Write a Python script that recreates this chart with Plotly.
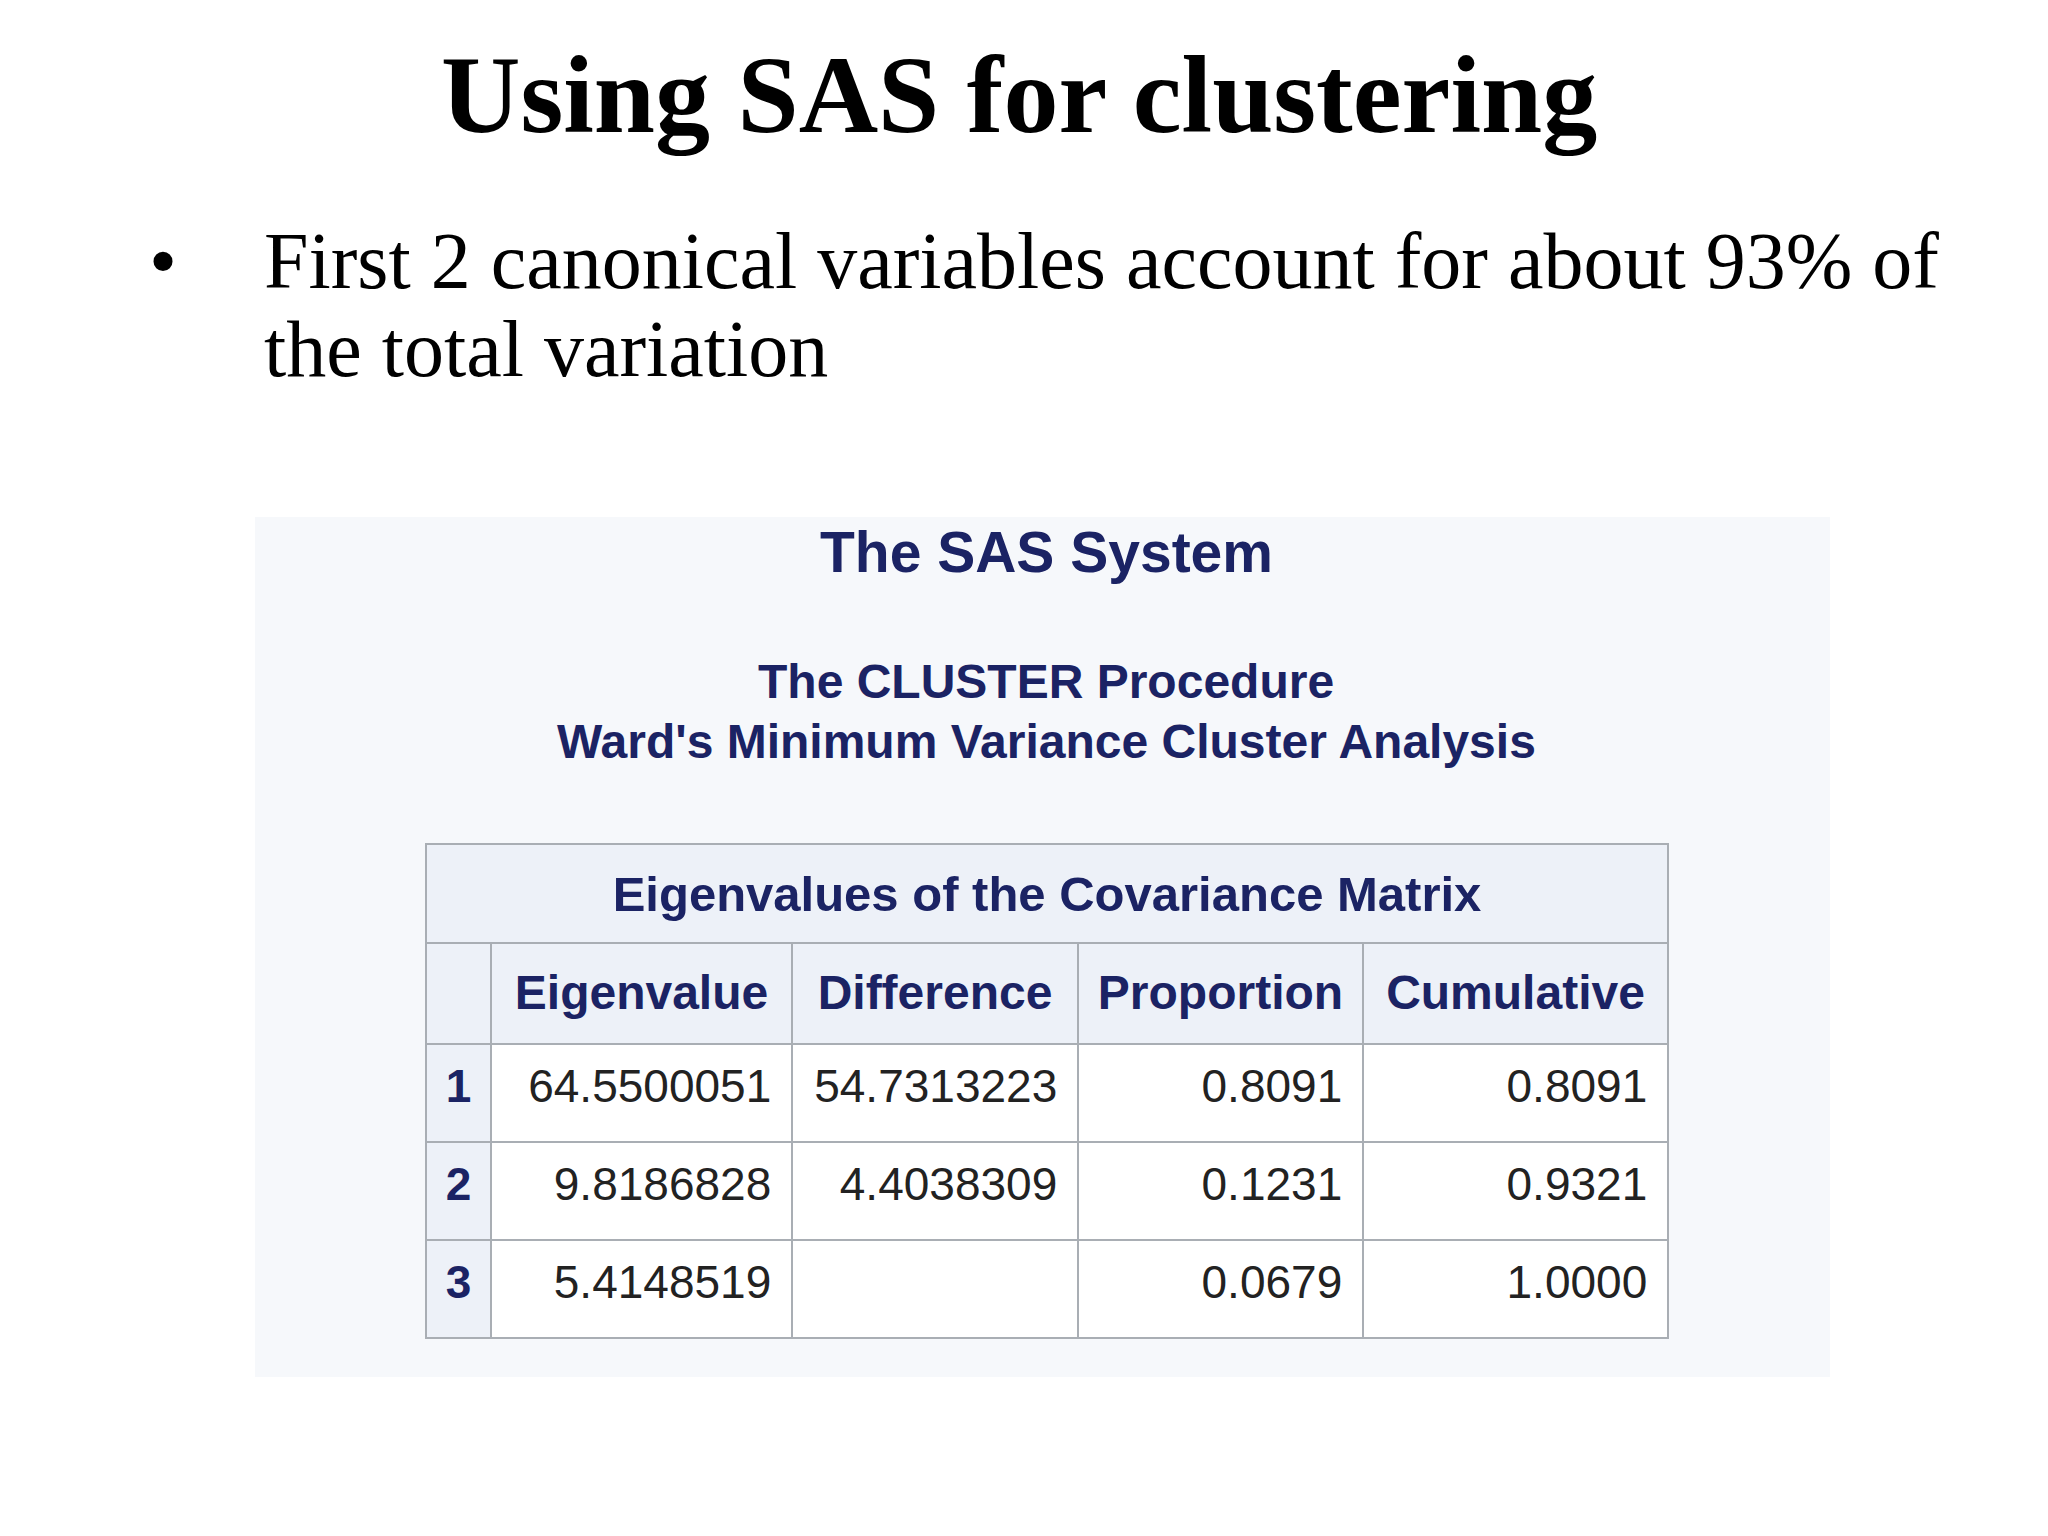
import plotly.graph_objects as go

W, H = 2048, 1536
OFF = 9  # page body margin

slide_title = "Using SAS for clustering"
bullet_lines = ["First 2 canonical variables account for about 93% of",
                "the total variation"]
sas_title = "The SAS System"
proc_titles = ["The CLUSTER Procedure",
               "Ward's Minimum Variance Cluster Analysis"]
table_title = "Eigenvalues of the Covariance Matrix"
col_headers = ["", "Eigenvalue", "Difference", "Proportion", "Cumulative"]
row_ids = ["1", "2", "3"]
eigenvalue = [64.5500051, 9.8186828, 5.4148519]
difference = [54.7313223, 4.4038309, None]
proportion = [0.8091, 0.1231, 0.0679]
cumulative = [0.8091, 0.9321, 1.0000]

NAVY = "#1b2364"
GRID = "#a9aeb4"
HEAD_FILL = "#edf1f8"
CLEAR = "rgba(0,0,0,0)"
SANS = "Liberation Sans, Arial, sans-serif"
SERIF = "Liberation Serif, Times New Roman, serif"

# table geometry (px)
TX0, TX1 = 427, 1669
ROW_TOP = [845, 944, 1045]      # title row, header row, first data row
TITLE_H, HEAD_H, ROW_H = 99, 101, 98
COLW = [65, 301, 286, 285, 305]
DY = 15  # push cell text down to centre it in the rows


def px(x):
    return (x - OFF) / W


def py(y):
    return 1 - (y - OFF) / H


def fmt(vals, nd):
    return [("" if v is None else f"{v:.{nd}f}") + "\u00a0" for v in vals]


fig = go.Figure()

# title row: grid + text layer
fig.add_trace(go.Table(
    domain=dict(x=[px(TX0), px(TX1)], y=[py(ROW_TOP[1] + 4), py(ROW_TOP[0])]),
    header=dict(values=[""], height=TITLE_H, fill_color=HEAD_FILL,
                line=dict(color=GRID, width=2)),
    cells=dict(values=[[]]),
))
fig.add_trace(go.Table(
    domain=dict(x=[px(TX0), px(TX1)], y=[py(ROW_TOP[1] + DY), py(ROW_TOP[0] + DY)]),
    header=dict(values=[f"<b>{table_title}</b>"], height=TITLE_H,
                fill_color=CLEAR, line=dict(color=CLEAR, width=0),
                font=dict(family=SANS, size=49, color=NAVY), align="center"),
    cells=dict(values=[[]]),
))

# header + data rows: grid layer
n_rows = len(row_ids)
bottom = ROW_TOP[2] + n_rows * ROW_H
fig.add_trace(go.Table(
    domain=dict(x=[px(TX0), px(TX1)], y=[py(bottom + 4), py(ROW_TOP[1])]),
    columnwidth=COLW,
    header=dict(values=[""] * len(col_headers), height=HEAD_H,
                fill_color=HEAD_FILL, line=dict(color=GRID, width=2)),
    cells=dict(values=[[""] * n_rows for _ in col_headers], height=ROW_H,
               fill_color=[HEAD_FILL] + ["white"] * 4,
               line=dict(color=GRID, width=2)),
))
# text layer
fig.add_trace(go.Table(
    domain=dict(x=[px(TX0), px(TX1)], y=[py(bottom + DY), py(ROW_TOP[1] + DY)]),
    columnwidth=COLW,
    header=dict(values=[f"<b>{h}</b>" for h in col_headers], height=HEAD_H,
                fill_color=CLEAR, line=dict(color=CLEAR, width=0),
                font=dict(family=SANS, size=48, color=NAVY), align="center"),
    cells=dict(values=[row_ids,
                       fmt(eigenvalue, 7), fmt(difference, 7),
                       fmt(proportion, 4), fmt(cumulative, 4)],
               height=ROW_H, fill_color=CLEAR, line=dict(color=CLEAR, width=0),
               font=dict(family=SANS, size=46,
                         weight=["bold"] + ["normal"] * 4,
                         color=[NAVY] + ["#222222"] * 4),
               align=["center", "right", "right", "right", "right"]),
))

# light panel behind the SAS output
fig.add_shape(type="rect", xref="paper", yref="paper",
              x0=px(256), x1=px(1831), y0=py(1378), y1=py(518),
              fillcolor="#f6f8fb", line=dict(width=0), layer="below")

fig.add_annotation(text=f"<b>{slide_title}</b>", x=px(1020), y=py(96),
                   xanchor="center",
                   font=dict(family=SERIF, size=110, color="black"))
fig.add_annotation(text="•", x=px(164), y=py(262), xanchor="center",
                   font=dict(family=SERIF, size=80, color="black"))
for i, line in enumerate(bullet_lines):
    fig.add_annotation(text=line, x=px(263), y=py(262 + 88 * i), xanchor="left",
                       font=dict(family=SERIF, size=80, color="black"))

fig.add_annotation(text=f"<b>{sas_title}</b>", x=px(1047), y=py(553),
                   xanchor="center",
                   font=dict(family=SANS, size=57, color=NAVY))
for i, t in enumerate(proc_titles):
    fig.add_annotation(text=f"<b>{t}</b>", x=px(1047), y=py(683 + 59 * i),
                       xanchor="center",
                       font=dict(family=SANS, size=48, color=NAVY))

fig.update_annotations(xref="paper", yref="paper", showarrow=False,
                       yanchor="middle")
fig.update_layout(width=W, height=H, margin=dict(l=0, r=0, t=0, b=0),
                  paper_bgcolor="white", plot_bgcolor="white")

fig.write_html("out.html")
